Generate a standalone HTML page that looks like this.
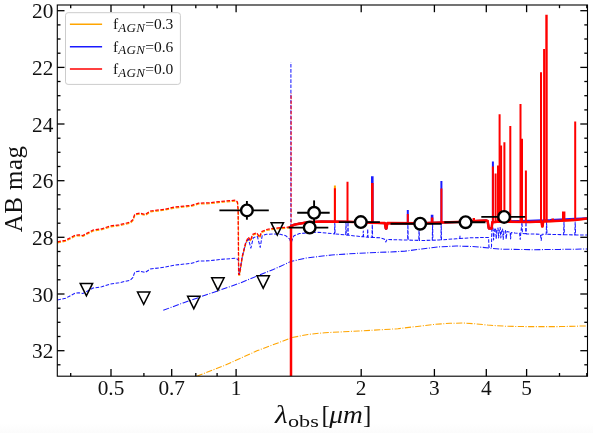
<!DOCTYPE html><html><head><meta charset="utf-8"><title>SED fit</title><style>html,body{margin:0;padding:0;background:#fff}svg{display:block}text{font-family:"Liberation Serif","DejaVu Serif",serif;fill:#111}</style></head><body>
<svg width="593" height="435" viewBox="0 0 593 435">
<defs><clipPath id="c"><rect x="57.3" y="5.0" width="530.2" height="371.2"/></clipPath><linearGradient id="g" x1="0" y1="0" x2="0" y2="1"><stop offset="0" stop-color="#fff"/><stop offset="1" stop-color="#fbfbfb"/></linearGradient></defs>
<rect width="593" height="435" fill="#fff"/><rect x="0" y="424" width="593" height="9" fill="url(#g)"/>
<g clip-path="url(#c)" fill="none" stroke-linejoin="round">
<polyline points="57.5,242.8 65.7,241.2 75.2,236.1 79.2,235.7 83.0,236.4 93.3,230.9 101.9,229.7 110.5,226.9 119.2,225.7 130.4,223.1 133.0,220.6 135.0,214.9 139.9,214.0 145.4,215.4 150.5,211.9 164.3,210.2 174.7,208.0 191.9,206.2 198.8,204.0 209.2,203.7 221.2,202.3 235.9,201.1 237.6,202.8 238.3,210.9 238.8,275.2 239.7,275.2 242.4,257.3 245.9,243.5 248.6,238.0 250.7,241.4 252.8,235.2 256.9,233.6 259.7,238.0 261.8,232.5 266.6,230.4 273.5,229.3 280.4,228.6 285.9,228.3 290.5,227.6" stroke="#ffa500" stroke-width="1.25" stroke-dasharray="3.6 1.55"/>
<polyline points="196.7,376.2 223.7,365.8 257.5,350.6 284.4,340.5 291.2,337.8 308.0,334.4 324.9,332.7 358.6,331.0 380.0,329.8 398.0,328.7 433.9,324.4 450.0,323.3 462.6,323.0 475.0,323.8 487.8,325.1 505.0,326.2 523.7,326.6 559.6,326.6 587.5,325.9" stroke="#ffa500" stroke-width="1.05" stroke-dasharray="6.2 1.55 1.0 1.55"/>
<polyline points="291.0,226.2 294.0,224.8 297.9,223.9 307.6,222.3 321.4,221.6 346.7,221.7 360.0,222.3 371.0,222.8 384.0,223.1 384.8,223.1 385.8,228.6 386.4,228.6 387.4,223.1 420.0,223.3 431.0,222.9 442.0,222.5 465.0,221.8 475.0,221.1 486.0,220.5 487.6,221.0 488.8,228.4 491.7,228.4 492.3,222.2 500.0,221.6 530.0,221.9 541.6,221.5 542.2,226.5 542.5,226.5 543.2,221.4 550.0,221.2 575.0,219.9 587.5,218.4" stroke="#ffa500" stroke-width="2.1"/>
<line x1="334.9" y1="222.2" x2="334.9" y2="185.5" stroke="#ffa500" stroke-width="2.00"/>
<polyline points="57.3,299.9 65.5,298.3 75.0,293.2 79.0,292.8 82.8,293.5 93.1,288.0 101.7,286.8 110.3,284.0 119.0,282.8 130.2,280.2 132.8,277.7 134.8,272.0 139.7,271.1 145.2,272.5 150.3,269.0 164.1,267.3 174.5,265.1 191.7,263.3 198.6,261.1 209.0,260.8 221.0,259.4 235.7,258.2 238.3,259.8 239.1,274.5 239.6,273.0 242.2,257.0 245.7,243.3 248.4,239.1 250.9,248.1 253.3,237.8 257.4,236.4 260.2,247.4 262.2,235.7 266.4,234.3 273.3,234.0 280.2,234.3 285.7,235.7 289.8,239.1 290.6,242.6" stroke="#1a1aff" stroke-width="1.05" stroke-dasharray="3.6 1.55"/>
<polyline points="290.9,242.6 290.9,62" stroke="#1a1aff" stroke-width="1.05" stroke-dasharray="3.6 1.55"/>
<polyline points="291.4,242.0 292.5,239.0 294.0,235.7 299.5,233.6 307.6,232.9 314.5,232.2 321.4,232.6 331.7,233.6 334.5,233.9 334.8,222.0 335.1,233.9 345.7,235.0 346.0,222.0 346.3,235.0 347.7,235.2 348.0,222.0 348.3,235.2 349.0,235.3 363.0,236.8 363.3,231.0 363.6,236.8 366.2,237.1 367.4,237.2 367.7,229.0 368.0,237.2 372.0,237.4 372.3,222.0 372.6,237.4 380.0,237.8 384.0,239.0 384.6,239.5 385.8,242.0 387.0,239.5 404.5,240.0 407.6,240.1 407.9,222.0 408.2,240.1 418.8,240.4 419.1,223.0 419.4,240.4 421.7,240.5 432.3,240.2 432.6,222.0 432.9,240.2 439.0,240.0 440.9,239.8 441.2,222.0 441.5,239.8 456.2,238.8 459.7,238.5 460.0,236.0 460.3,238.5 470.0,237.8 488.4,237.4 488.6,237.4 488.9,247.1 491.5,247.1 491.8,228.0 493.0,227.5 493.6,240.0 494.4,230.0 495.6,228.0 496.2,239.0 497.0,230.0 498.0,228.0 498.6,238.0 499.4,229.0 500.2,227.5 500.8,238.0 501.6,230.0 502.6,229.0 503.2,239.5 504.0,231.0 505.5,230.5 506.2,239.0 507.0,231.5 509.0,232.0 510.2,232.0 510.6,239.0 511.2,232.5 515.0,233.0 519.6,233.3 520.2,239.5 520.8,233.3 522.0,222.0 522.4,233.5 525.5,233.8 526.0,222.0 526.4,233.9 540.4,234.2 541.2,240.5 542.0,234.2 546.2,234.3 546.6,222.0 547.0,234.3 563.6,234.7 564.0,222.0 564.4,234.7 574.8,234.9 575.2,222.0 575.6,234.9 587.5,235.1" stroke="#1a1aff" stroke-width="1.05" stroke-dasharray="3.6 1.55"/>
<polyline points="163.3,310.3 183.1,302.9 200.3,296.9 217.6,290.9 240.0,283.1 259.5,275.0 273.3,269.5 287.0,263.3 290.3,261.6 305.9,258.1 331.7,255.0 357.6,253.3 380.0,252.3 387.2,252.1 404.5,251.2 421.7,249.0 439.0,246.9 456.2,246.0 470.0,246.4 480.0,247.1 499.6,249.1 533.0,249.7 560.0,249.4 587.5,249.0" stroke="#1a1aff" stroke-width="1.05" stroke-dasharray="6.2 1.55 1.0 1.55"/>
<polyline points="291.0,226.2 294.0,224.8 297.9,223.9 307.6,222.3 321.4,221.6 346.7,221.7 360.0,222.3 371.0,222.8 384.0,223.1 384.8,223.1 385.8,228.6 386.4,228.6 387.4,223.1 420.0,223.3 431.0,222.9 442.0,222.5 465.0,221.8 475.0,221.1 486.0,220.5 487.6,221.0 488.8,228.4 491.7,228.4 492.3,222.2 500.0,221.6 530.0,220.7 541.6,220.3 542.2,225.3 542.5,225.3 543.2,220.2 550.0,220.0 575.0,218.7 587.5,218.4" stroke="#1a1aff" stroke-width="2.1"/>
<line x1="372.3" y1="223.3" x2="372.3" y2="176.2" stroke="#1a1aff" stroke-width="2.60"/>
<line x1="407.8" y1="223.7" x2="407.8" y2="210.0" stroke="#1a1aff" stroke-width="2.00"/>
<line x1="432.1" y1="223.4" x2="432.1" y2="214.8" stroke="#1a1aff" stroke-width="2.60"/>
<line x1="441.4" y1="223.0" x2="441.4" y2="181.0" stroke="#1a1aff" stroke-width="2.00"/>
<line x1="492.9" y1="222.7" x2="492.9" y2="161.4" stroke="#1a1aff" stroke-width="2.00"/>
<polyline points="57.3,241.9 65.5,240.3 75.0,235.2 79.0,234.8 82.8,235.5 93.1,230.0 101.7,228.8 110.3,226.0 119.0,224.8 130.2,222.2 132.8,219.7 134.8,214.0 139.7,213.1 145.2,214.5 150.3,211.0 164.1,209.3 174.5,207.1 191.7,205.3 198.6,203.1 209.0,202.8 221.0,201.4 235.7,200.2 237.4,201.9 238.1,210.0 238.6,274.3 239.5,274.3 242.2,256.4 245.7,242.6 248.4,237.1 250.5,240.5 252.6,234.3 256.7,232.7 259.5,237.1 261.6,231.6 266.4,229.5 273.3,228.4 280.2,227.7 285.7,227.4 290.3,226.7" stroke="#ff0000" stroke-width="1.25" stroke-dasharray="3.6 1.55"/>
<polyline points="291.1,226.7 291.1,93.5" stroke="#ff0000" stroke-width="1.05" stroke-dasharray="3.6 1.55" stroke-dashoffset="1.2"/>
<polyline points="291.0,376.2 291.0,226.2 294.0,224.8 297.9,223.9 307.6,222.3 321.4,221.6 346.7,221.7 360.0,222.3 371.0,222.8 384.0,223.1 384.8,223.1 385.8,228.6 386.4,228.6 387.4,223.1 420.0,223.3 431.0,222.9 442.0,222.5 465.0,221.8 475.0,221.1 486.0,220.5 487.6,221.0 488.8,228.4 491.7,228.4 492.3,222.2 500.0,221.6 530.0,221.9 541.6,221.5 542.2,226.5 542.5,226.5 543.2,221.4 550.0,221.2 575.0,219.9 587.5,218.4" stroke="#ff0000" stroke-width="2.5"/>
<line x1="334.9" y1="222.2" x2="334.9" y2="188.3" stroke="#ff0000" stroke-width="2.00"/>
<line x1="347.5" y1="222.2" x2="347.5" y2="181.7" stroke="#ff0000" stroke-width="2.00"/>
<line x1="372.3" y1="223.3" x2="372.3" y2="183.1" stroke="#ff0000" stroke-width="2.60"/>
<line x1="407.8" y1="223.7" x2="407.8" y2="214.1" stroke="#ff0000" stroke-width="2.00"/>
<line x1="432.1" y1="223.4" x2="432.1" y2="217.6" stroke="#ff0000" stroke-width="2.60"/>
<line x1="441.4" y1="223.0" x2="441.4" y2="188.6" stroke="#ff0000" stroke-width="2.00"/>
<line x1="473.8" y1="221.7" x2="473.8" y2="218.0" stroke="#ff0000" stroke-width="2.40"/>
<line x1="492.9" y1="222.7" x2="492.9" y2="166.6" stroke="#ff0000" stroke-width="2.00"/>
<line x1="495.6" y1="222.4" x2="495.6" y2="173.5" stroke="#ff0000" stroke-width="2.00"/>
<line x1="498.0" y1="222.3" x2="498.0" y2="165.6" stroke="#ff0000" stroke-width="2.00"/>
<line x1="499.6" y1="222.1" x2="499.6" y2="114.2" stroke="#ff0000" stroke-width="2.00"/>
<line x1="501.1" y1="222.1" x2="501.1" y2="145.5" stroke="#ff0000" stroke-width="2.00"/>
<line x1="504.4" y1="222.1" x2="504.4" y2="142.2" stroke="#ff0000" stroke-width="2.00"/>
<line x1="510.3" y1="222.2" x2="510.3" y2="125.9" stroke="#ff0000" stroke-width="2.00"/>
<line x1="520.5" y1="222.3" x2="520.5" y2="103.9" stroke="#ff0000" stroke-width="2.00"/>
<line x1="522.0" y1="222.3" x2="522.0" y2="138.7" stroke="#ff0000" stroke-width="2.00"/>
<line x1="525.9" y1="222.4" x2="525.9" y2="170.5" stroke="#ff0000" stroke-width="2.00"/>
<line x1="541.0" y1="222.0" x2="541.0" y2="72.3" stroke="#ff0000" stroke-width="2.00"/>
<line x1="544.1" y1="221.9" x2="544.1" y2="48.9" stroke="#ff0000" stroke-width="2.00"/>
<line x1="546.5" y1="221.8" x2="546.5" y2="14.7" stroke="#ff0000" stroke-width="2.40"/>
<line x1="552.7" y1="221.6" x2="552.7" y2="218.6" stroke="#ff0000" stroke-width="2.60"/>
<line x1="563.7" y1="221.0" x2="563.7" y2="211.6" stroke="#ff0000" stroke-width="3.40"/>
<line x1="571.9" y1="220.6" x2="571.9" y2="218.5" stroke="#ff0000" stroke-width="2.20"/>
<line x1="575.2" y1="220.4" x2="575.2" y2="121.4" stroke="#ff0000" stroke-width="2.00"/>
</g>
<polygon points="80.2,283.4 92.6,283.4 86.4,295.8" fill="none" stroke="#000" stroke-width="1.5" stroke-linejoin="miter"/>
<polygon points="137.5,292.0 149.9,292.0 143.7,304.4" fill="none" stroke="#000" stroke-width="1.5" stroke-linejoin="miter"/>
<polygon points="187.6,296.3 200.0,296.3 193.8,308.7" fill="none" stroke="#000" stroke-width="1.5" stroke-linejoin="miter"/>
<polygon points="211.7,277.8 224.1,277.8 217.9,290.2" fill="none" stroke="#000" stroke-width="1.5" stroke-linejoin="miter"/>
<polygon points="257.0,275.8 269.4,275.8 263.2,288.2" fill="none" stroke="#000" stroke-width="1.5" stroke-linejoin="miter"/>
<polygon points="271.1,222.7 283.5,222.7 277.3,235.1" fill="none" stroke="#000" stroke-width="1.5" stroke-linejoin="miter"/>
<line x1="219.4" y1="210.4" x2="268.8" y2="210.4" stroke="#000" stroke-width="1.9"/>
<line x1="246.9" y1="201.0" x2="246.9" y2="219.7" stroke="#000" stroke-width="1.9"/>
<line x1="297.2" y1="212.8" x2="329.7" y2="212.8" stroke="#000" stroke-width="1.9"/>
<line x1="314.1" y1="200.4" x2="314.1" y2="225.2" stroke="#000" stroke-width="1.9"/>
<line x1="288.6" y1="227.6" x2="328.3" y2="227.6" stroke="#000" stroke-width="1.9"/>
<line x1="338.8" y1="222.1" x2="379.9" y2="222.1" stroke="#000" stroke-width="1.9"/>
<line x1="390.5" y1="223.7" x2="441.5" y2="223.7" stroke="#000" stroke-width="1.9"/>
<line x1="444.3" y1="222.2" x2="485.5" y2="222.2" stroke="#000" stroke-width="1.9"/>
<line x1="481.3" y1="216.9" x2="525.2" y2="216.9" stroke="#000" stroke-width="1.9"/>
<circle cx="246.9" cy="210.4" r="5.8" fill="#fff" stroke="#000" stroke-width="2.4"/>
<circle cx="314.1" cy="212.8" r="5.8" fill="#fff" stroke="#000" stroke-width="2.4"/>
<circle cx="309.7" cy="227.6" r="5.8" fill="#fff" stroke="#000" stroke-width="2.4"/>
<circle cx="360.8" cy="222.1" r="5.8" fill="#fff" stroke="#000" stroke-width="2.4"/>
<circle cx="420.2" cy="223.7" r="5.8" fill="#fff" stroke="#000" stroke-width="2.4"/>
<circle cx="465.6" cy="222.2" r="5.8" fill="#fff" stroke="#000" stroke-width="2.4"/>
<circle cx="504.1" cy="216.9" r="5.8" fill="#fff" stroke="#000" stroke-width="2.4"/>
<rect x="57.3" y="5.0" width="530.2" height="371.2" fill="none" stroke="#000" stroke-width="1.1"/>
<g stroke="#000" stroke-width="1.3">
<line x1="111.0" y1="376.2" x2="111.0" y2="369.0"/>
<line x1="111.0" y1="5.0" x2="111.0" y2="12.2"/>
<line x1="171.7" y1="376.2" x2="171.7" y2="369.0"/>
<line x1="171.7" y1="5.0" x2="171.7" y2="12.2"/>
<line x1="236.1" y1="376.2" x2="236.1" y2="369.0"/>
<line x1="236.1" y1="5.0" x2="236.1" y2="12.2"/>
<line x1="361.2" y1="376.2" x2="361.2" y2="369.0"/>
<line x1="361.2" y1="5.0" x2="361.2" y2="12.2"/>
<line x1="434.4" y1="376.2" x2="434.4" y2="369.0"/>
<line x1="434.4" y1="5.0" x2="434.4" y2="12.2"/>
<line x1="486.3" y1="376.2" x2="486.3" y2="369.0"/>
<line x1="486.3" y1="5.0" x2="486.3" y2="12.2"/>
<line x1="526.6" y1="376.2" x2="526.6" y2="369.0"/>
<line x1="526.6" y1="5.0" x2="526.6" y2="12.2"/>
<line x1="70.7" y1="376.2" x2="70.7" y2="373.0"/>
<line x1="70.7" y1="5.0" x2="70.7" y2="8.2"/>
<line x1="143.9" y1="376.2" x2="143.9" y2="373.0"/>
<line x1="143.9" y1="5.0" x2="143.9" y2="8.2"/>
<line x1="195.8" y1="376.2" x2="195.8" y2="373.0"/>
<line x1="195.8" y1="5.0" x2="195.8" y2="8.2"/>
<line x1="217.1" y1="376.2" x2="217.1" y2="373.0"/>
<line x1="217.1" y1="5.0" x2="217.1" y2="8.2"/>
<line x1="559.5" y1="376.2" x2="559.5" y2="373.0"/>
<line x1="559.5" y1="5.0" x2="559.5" y2="8.2"/>
<line x1="586.8" y1="376.2" x2="586.8" y2="373.0"/>
<line x1="586.8" y1="5.0" x2="586.8" y2="8.2"/>
<line x1="57.3" y1="10.7" x2="64.5" y2="10.7"/>
<line x1="587.5" y1="10.7" x2="580.3" y2="10.7"/>
<line x1="57.3" y1="24.9" x2="60.5" y2="24.9"/>
<line x1="587.5" y1="24.9" x2="584.3" y2="24.9"/>
<line x1="57.3" y1="39.0" x2="60.5" y2="39.0"/>
<line x1="587.5" y1="39.0" x2="584.3" y2="39.0"/>
<line x1="57.3" y1="53.2" x2="60.5" y2="53.2"/>
<line x1="587.5" y1="53.2" x2="584.3" y2="53.2"/>
<line x1="57.3" y1="67.4" x2="64.5" y2="67.4"/>
<line x1="587.5" y1="67.4" x2="580.3" y2="67.4"/>
<line x1="57.3" y1="81.5" x2="60.5" y2="81.5"/>
<line x1="587.5" y1="81.5" x2="584.3" y2="81.5"/>
<line x1="57.3" y1="95.7" x2="60.5" y2="95.7"/>
<line x1="587.5" y1="95.7" x2="584.3" y2="95.7"/>
<line x1="57.3" y1="109.9" x2="60.5" y2="109.9"/>
<line x1="587.5" y1="109.9" x2="584.3" y2="109.9"/>
<line x1="57.3" y1="124.0" x2="64.5" y2="124.0"/>
<line x1="587.5" y1="124.0" x2="580.3" y2="124.0"/>
<line x1="57.3" y1="138.2" x2="60.5" y2="138.2"/>
<line x1="587.5" y1="138.2" x2="584.3" y2="138.2"/>
<line x1="57.3" y1="152.3" x2="60.5" y2="152.3"/>
<line x1="587.5" y1="152.3" x2="584.3" y2="152.3"/>
<line x1="57.3" y1="166.5" x2="60.5" y2="166.5"/>
<line x1="587.5" y1="166.5" x2="584.3" y2="166.5"/>
<line x1="57.3" y1="180.7" x2="64.5" y2="180.7"/>
<line x1="587.5" y1="180.7" x2="580.3" y2="180.7"/>
<line x1="57.3" y1="194.8" x2="60.5" y2="194.8"/>
<line x1="587.5" y1="194.8" x2="584.3" y2="194.8"/>
<line x1="57.3" y1="209.0" x2="60.5" y2="209.0"/>
<line x1="587.5" y1="209.0" x2="584.3" y2="209.0"/>
<line x1="57.3" y1="223.2" x2="60.5" y2="223.2"/>
<line x1="587.5" y1="223.2" x2="584.3" y2="223.2"/>
<line x1="57.3" y1="237.3" x2="64.5" y2="237.3"/>
<line x1="587.5" y1="237.3" x2="580.3" y2="237.3"/>
<line x1="57.3" y1="251.5" x2="60.5" y2="251.5"/>
<line x1="587.5" y1="251.5" x2="584.3" y2="251.5"/>
<line x1="57.3" y1="265.7" x2="60.5" y2="265.7"/>
<line x1="587.5" y1="265.7" x2="584.3" y2="265.7"/>
<line x1="57.3" y1="279.8" x2="60.5" y2="279.8"/>
<line x1="587.5" y1="279.8" x2="584.3" y2="279.8"/>
<line x1="57.3" y1="294.0" x2="64.5" y2="294.0"/>
<line x1="587.5" y1="294.0" x2="580.3" y2="294.0"/>
<line x1="57.3" y1="308.2" x2="60.5" y2="308.2"/>
<line x1="587.5" y1="308.2" x2="584.3" y2="308.2"/>
<line x1="57.3" y1="322.3" x2="60.5" y2="322.3"/>
<line x1="587.5" y1="322.3" x2="584.3" y2="322.3"/>
<line x1="57.3" y1="336.5" x2="60.5" y2="336.5"/>
<line x1="587.5" y1="336.5" x2="584.3" y2="336.5"/>
<line x1="57.3" y1="350.7" x2="64.5" y2="350.7"/>
<line x1="587.5" y1="350.7" x2="580.3" y2="350.7"/>
<line x1="57.3" y1="364.8" x2="60.5" y2="364.8"/>
<line x1="587.5" y1="364.8" x2="584.3" y2="364.8"/>
</g>
<g font-size="21.3" text-anchor="end">
<text x="53.3" y="18.2">20</text>
<text x="53.3" y="74.9">22</text>
<text x="53.3" y="131.5">24</text>
<text x="53.3" y="188.2">26</text>
<text x="53.3" y="244.8">28</text>
<text x="53.3" y="301.5">30</text>
<text x="53.3" y="358.2">32</text>
</g>
<g font-size="21.3" text-anchor="middle">
<text x="111.0" y="395.0">0.5</text>
<text x="171.7" y="395.0">0.7</text>
<text x="236.1" y="395.0">1</text>
<text x="361.2" y="395.0">2</text>
<text x="434.4" y="395.0">3</text>
<text x="486.3" y="395.0">4</text>
<text x="526.6" y="395.0">5</text>
</g>
<text transform="translate(21.5,188.9) rotate(-90)" font-size="25" letter-spacing="0.45" text-anchor="middle">AB mag</text>
<text x="275.0" y="422.7" font-size="25" font-style="italic" textLength="12.6" lengthAdjust="spacingAndGlyphs">λ</text>
<text x="288.0" y="427.1" font-size="17.5" textLength="30.8" lengthAdjust="spacingAndGlyphs">obs</text>
<text x="321.5" y="422.7" font-size="25">[</text>
<text x="329.3" y="422.7" font-size="25" font-style="italic" textLength="33.6" lengthAdjust="spacingAndGlyphs">μm</text>
<text x="363.0" y="422.7" font-size="25">]</text>
<rect x="65.5" y="12.7" width="114.9" height="71.7" rx="2.6" fill="#fff" fill-opacity="0.8" stroke="#cccccc" stroke-width="1"/>
<line x1="69.9" y1="24.3" x2="102.1" y2="24.3" stroke="#ffa500" stroke-width="1.6"/>
<text x="113" y="29.2" font-size="15.5">f<tspan font-style="italic" font-size="13.0" letter-spacing="0.35" dy="2.6">AGN</tspan><tspan dy="-2.6">=0.3</tspan></text>
<line x1="69.9" y1="46.7" x2="102.1" y2="46.7" stroke="#1a1aff" stroke-width="1.6"/>
<text x="113" y="51.6" font-size="15.5">f<tspan font-style="italic" font-size="13.0" letter-spacing="0.35" dy="2.6">AGN</tspan><tspan dy="-2.6">=0.6</tspan></text>
<line x1="69.9" y1="69.0" x2="102.1" y2="69.0" stroke="#ff0000" stroke-width="1.6"/>
<text x="113" y="73.9" font-size="15.5">f<tspan font-style="italic" font-size="13.0" letter-spacing="0.35" dy="2.6">AGN</tspan><tspan dy="-2.6">=0.0</tspan></text>
</svg></body></html>
